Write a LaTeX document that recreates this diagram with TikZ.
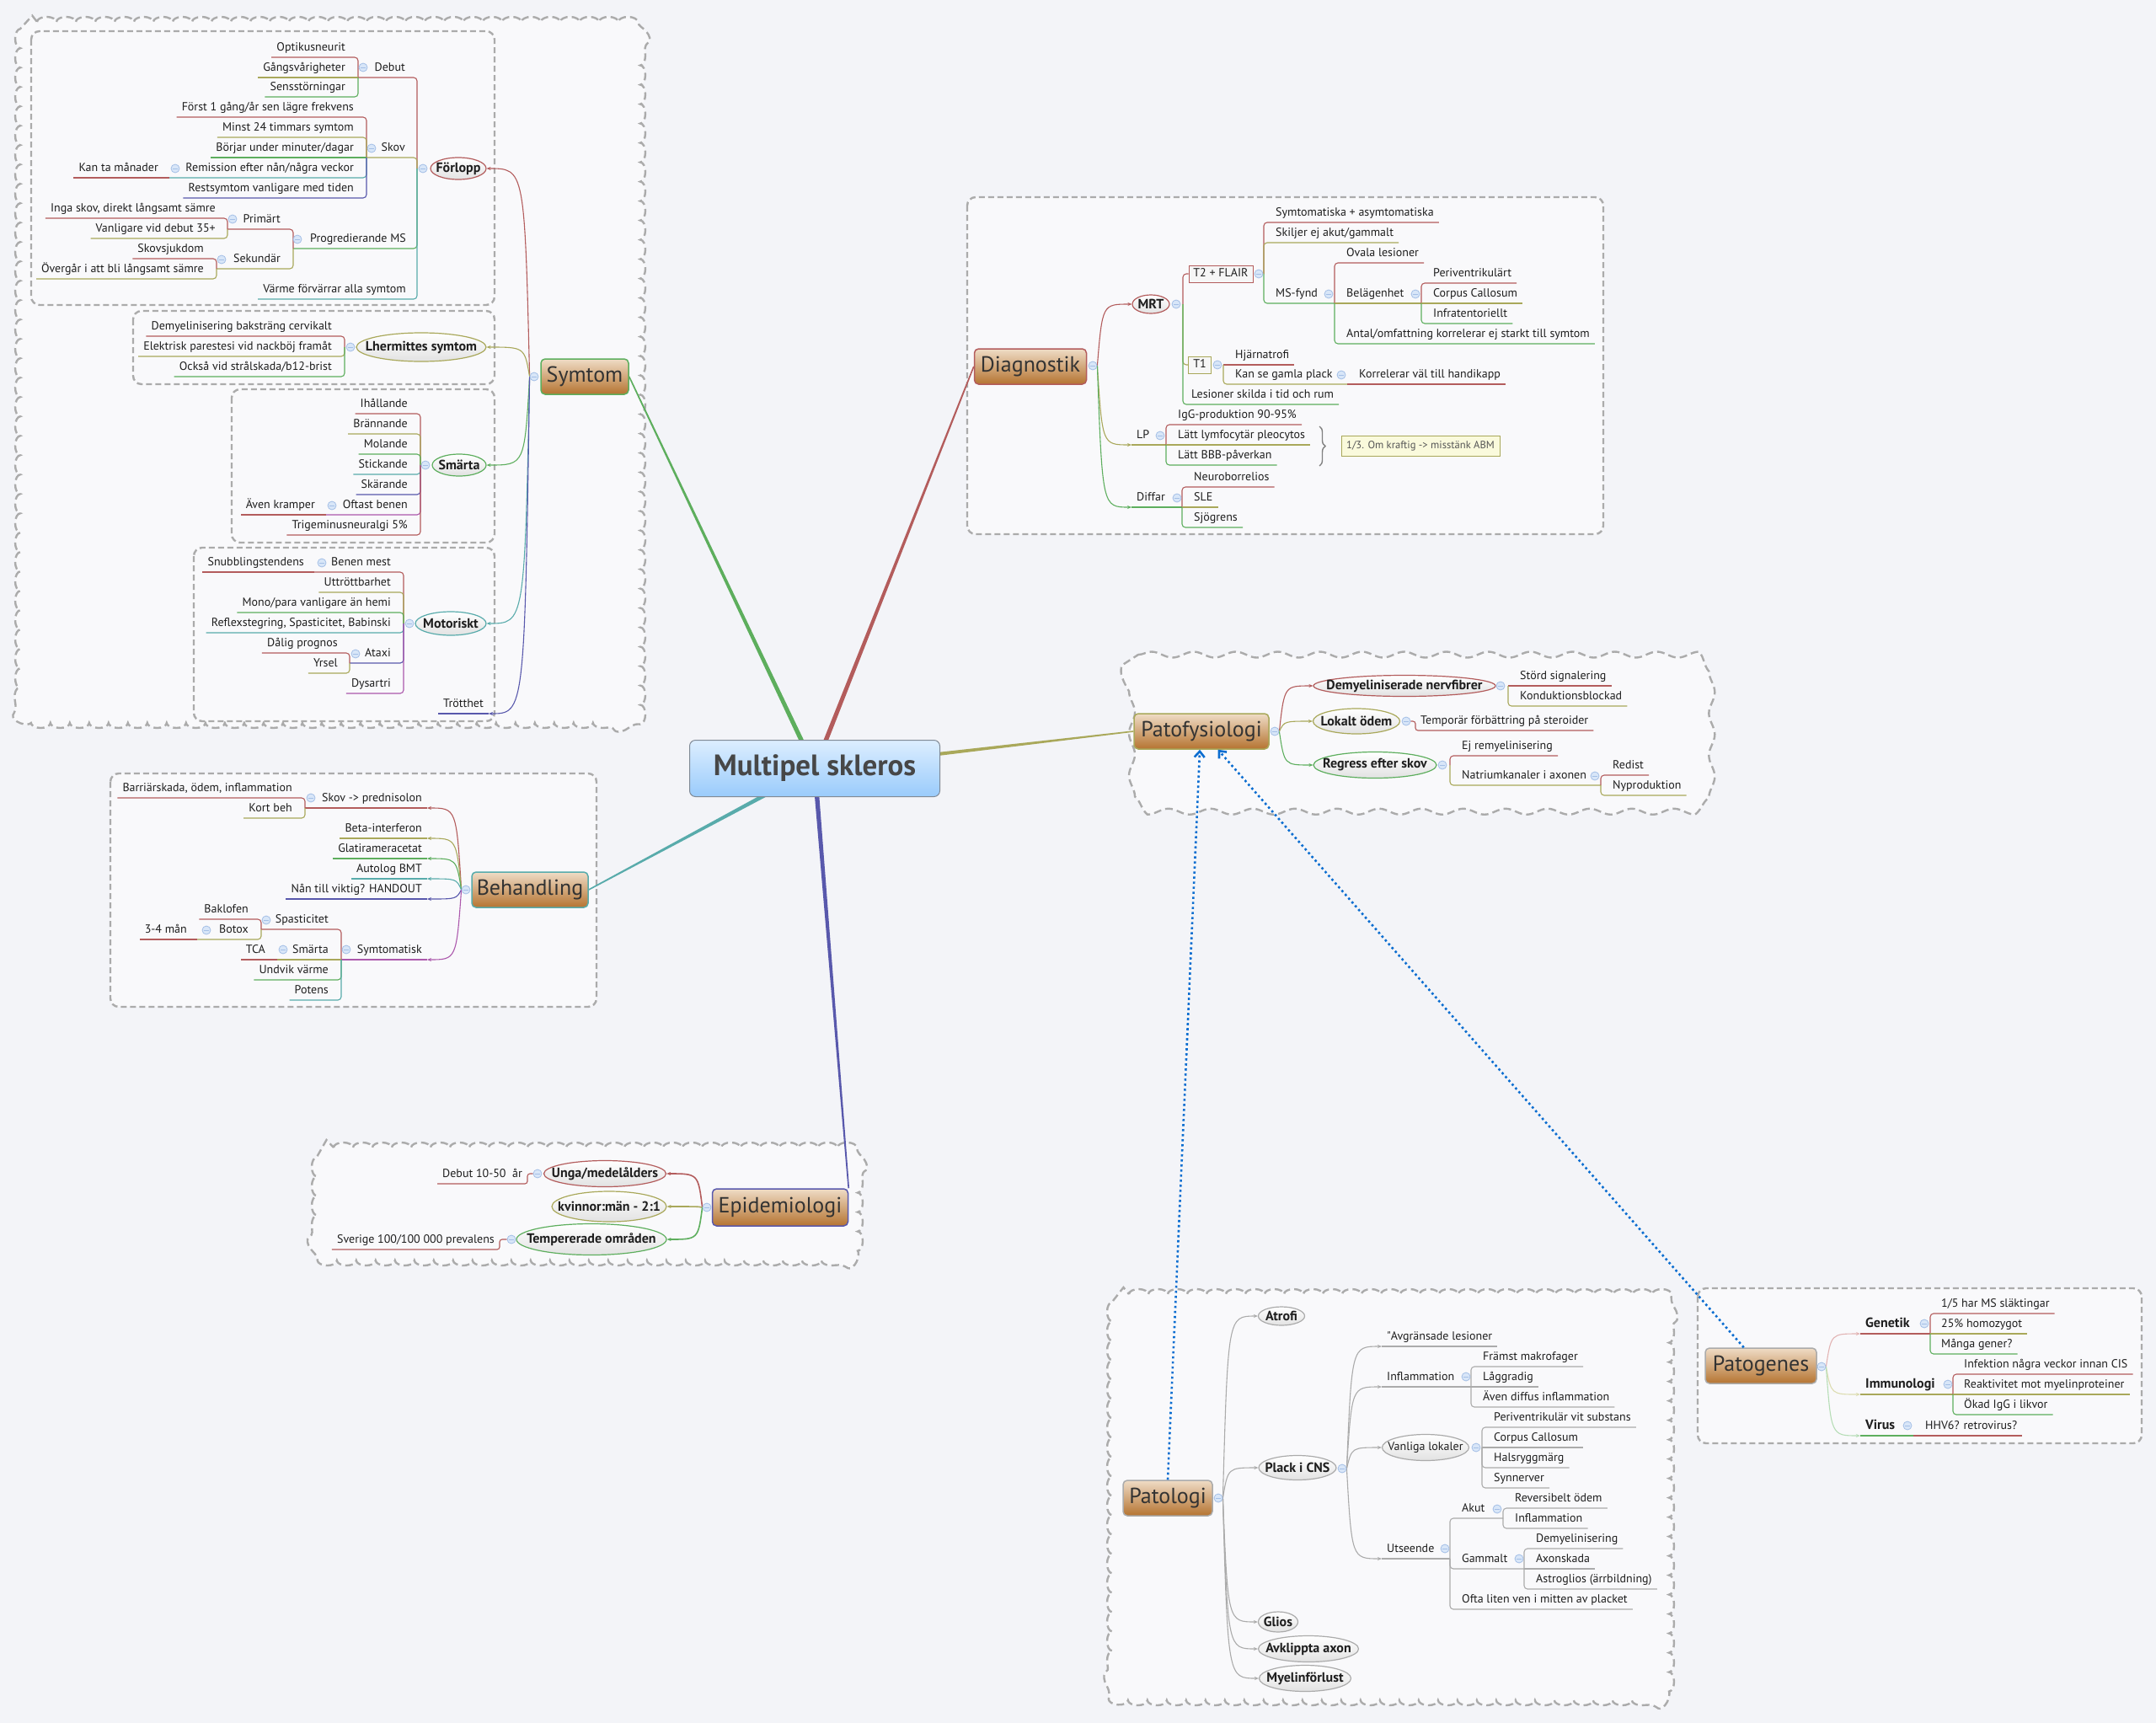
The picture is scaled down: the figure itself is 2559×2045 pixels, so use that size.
\documentclass[tikz,border=0pt]{standalone}
\usepackage{fontspec}
\setmainfont{PT Sans}
\usetikzlibrary{shapes.geometric, arrows.meta, calc, decorations.pathmorphing, decorations.pathreplacing}
\definecolor{bgC}{HTML}{F3F4F8}
\definecolor{bndF}{HTML}{F9F9FB}
\definecolor{bndD}{HTML}{ABABAB}
\definecolor{txt}{HTML}{1E1E1E}
\definecolor{xred}{HTML}{B35C5C}
\definecolor{xolive}{HTML}{A9A85A}
\definecolor{xgreen}{HTML}{5DAE5D}
\definecolor{xteal}{HTML}{58ABAB}
\definecolor{xblue}{HTML}{5858AC}
\definecolor{xpurple}{HTML}{AC58AC}
\definecolor{xgray}{HTML}{ABABAB}
\definecolor{pred}{HTML}{E2B4B4}
\definecolor{polive}{HTML}{DCDCB0}
\definecolor{pgreen}{HTML}{B6DDB6}
\definecolor{togF}{HTML}{D8E6F8}
\definecolor{togD}{HTML}{A4BFE6}
\definecolor{dotC}{HTML}{0B6DD0}
\definecolor{ctrT}{HTML}{DDEEFF}
\definecolor{ctrB}{HTML}{99CBFB}
\definecolor{ctrD}{HTML}{808A96}
\definecolor{ctrX}{HTML}{474747}
\definecolor{topT}{HTML}{EFDCC6}
\definecolor{topB}{HTML}{B57431}
\definecolor{topX}{HTML}{333333}
\definecolor{bubB}{HTML}{E2E2E2}
\definecolor{rboxF}{HTML}{F6F6F6}
\definecolor{sumF}{HTML}{FAFADC}
\definecolor{sumX}{HTML}{555555}
\pgfdeclarelayer{bg}
\pgfdeclarelayer{lines}
\pgfsetlayers{bg,lines,main}
\newcommand\mainbranch[3]{%
  \fill[#1] ($(#2)!2.8pt!90:(#3)$) -- ($(#3)!0.8pt!-90:(#2)$) -- ($(#3)!0.8pt!90:(#2)$) -- ($(#2)!2.8pt!-90:(#3)$) -- cycle;}
% cloud outline: rounded box drawn clockwise, so the decoration bulges outward
\newcommand\cloudbox[5]{%
  \path[#1] ({#2+20},#3) -- ({#4-20},#3) arc[start angle=90, end angle=0, radius=20pt]
    -- (#4,{#5-20}) arc[start angle=0, end angle=-90, radius=20pt]
    -- ({#2+20},#5) arc[start angle=-90, end angle=-180, radius=20pt]
    -- (#2,{#3+20}) arc[start angle=180, end angle=90, radius=20pt] -- cycle;}
\tikzset{
  lf/.style={font=\fontsize{14}{16}\selectfont, text=txt, inner xsep=6pt, inner ysep=4pt, text height=10pt, text depth=3pt},
  lfL/.style={lf, anchor=south east},
  lfR/.style={lf, anchor=south west},
  lfB/.style={lfR, font=\bfseries\fontsize{16}{18}\selectfont},
  bt/.style={font=\bfseries\fontsize{16}{18}\selectfont, text=txt},
  bub/.style={ellipse, line width=1.2pt, top color=white, bottom color=bubB, inner sep=0pt},
  mtop/.style={rectangle, rounded corners=5pt, line width=1.5pt, top color=topT, bottom color=topB, minimum height=42, font=\fontsize{26}{30}\selectfont, text=topX},
  ctr/.style={rectangle, rounded corners=7pt, draw=ctrD, line width=1pt, top color=ctrT, bottom color=ctrB, minimum width=297, minimum height=67, font=\bfseries\fontsize{35}{40}\selectfont, text=ctrX},
  rbox/.style={rectangle, line width=1pt, fill=rboxF, minimum height=20, inner xsep=4pt, inner ysep=0pt, font=\fontsize{14}{16}\selectfont, text=txt, text height=10pt, text depth=3pt},
  sbox/.style={rectangle, draw=xolive, line width=0.8pt, fill=sumF, minimum width=188, minimum height=24, font=\fontsize{12.6}{14}\selectfont, text=sumX},
  tog/.style={circle, draw=togD, fill=togF, line width=0.8pt, minimum size=10pt, inner sep=0pt,
    path picture={\draw[togD, line width=1pt] ([xshift=-2.6pt]path picture bounding box.center) -- ([xshift=2.6pt]path picture bounding box.center);}},
  ln/.style={line width=1.1pt, rounded corners=4pt},
  crv/.style={line width=1.1pt, -{Stealth[length=5pt,width=4pt]},
    to path={.. controls ($(\tikztostart |- \tikztotarget)+(#1,0)$) .. (\tikztotarget)}},
  bnd/.style={draw=bndD, fill=bndF, line width=2.4pt, dash pattern=on 7pt off 4pt, rounded corners=10pt},
  cld/.style={draw=bndD, fill=bndF, line width=2.4pt, dash pattern=on 9pt off 5pt, decorate, decoration={bumps, segment length=46pt, amplitude=6pt}},
  wav/.style={draw=bndD, fill=bndF, line width=2.4pt, dash pattern=on 9pt off 5pt, decorate, decoration={snake, segment length=50pt, amplitude=3.5pt}},
  brc/.style={draw=gray, line width=1.4pt, decorate, decoration={brace, amplitude=7pt}},
  dotA/.style={dotC, line width=2.6pt, dash pattern=on 2.6pt off 3.4pt, -{Straight Barb[length=7pt,width=12pt]}}
}
\begin{document}
\begin{tikzpicture}[x=1pt, y=-1pt]
\useasboundingbox (0,0) rectangle (2559,2045);
\begin{pgfonlayer}{bg}
\fill[bgC] (0,0) rectangle (2559,2045);
% boundaries
\cloudbox{cld}{24}{26}{760}{858}
\path[bnd] (37,37) rectangle (587,362);
\path[bnd] (158,369) rectangle (587,456);
\path[bnd] (275,462) rectangle (587,644);
\path[bnd] (230,650) rectangle (587,856);
\path[bnd] (131,918) rectangle (708,1195);
\cloudbox{cld}{376}{1362}{1018}{1496}
\path[bnd] (1148,234) rectangle (1903,634);
\cloudbox{wav}{1331}{777}{2020}{958}
\cloudbox{cld}{1320}{1536}{1981}{2018}
\path[bnd] (2015,1529) rectangle (2542,1713);
\end{pgfonlayer}

% central and main topics
\node[ctr] (ms) at (967,912) {Multipel skleros};
\node[mtop, draw=xgreen, minimum width=104] (sym) at (694,447) {Symtom};
\node[mtop, draw=xred, minimum width=133] (dia) at (1223,435) {Diagnostik};
\node[mtop, draw=xolive, minimum width=160] (pfy) at (1426,868) {Patofysiologi};
\node[mtop, draw=xteal, minimum width=138] (beh) at (629,1056) {Behandling};
\node[mtop, draw=xblue, minimum width=161, minimum height=44] (epi) at (926,1433) {Epidemiologi};
\node[mtop, draw=xgray, minimum width=106] (plg) at (1386,1778) {Patologi};
\node[mtop, draw=xgray, minimum width=132] (pgn) at (2090,1621) {Patogenes};
\begin{pgfonlayer}{lines}
\mainbranch{xgreen}{ms}{sym.east}
\mainbranch{xred}{ms}{dia.west}
\mainbranch{xolive}{ms}{pfy.west}
\mainbranch{xteal}{ms}{beh.east}
\mainbranch{xblue}{ms}{epi.north east}
\end{pgfonlayer}

% Symtom
\node[tog] (tSym) at (634,447) {};
\node[bub, draw=xred, minimum width=66, minimum height=26, label={[bt]center:Förlopp}] (forl) at (544,200) {};
\node[bub, draw=xolive, minimum width=154, minimum height=34, label={[bt]center:Lhermittes symtom}] (lher) at (500,412) {};
\node[bub, draw=xgreen, minimum width=64, minimum height=26, label={[bt]center:Smärta}] (smar) at (545,552) {};
\node[bub, draw=xteal, minimum width=84, minimum height=28, label={[bt]center:Motoriskt}] (moto) at (535,740) {};
\node[lfL] (trot) at (580,847) {Trötthet};
\node[tog] (tForl) at (502,200) {};
\coordinate (forB) at (495,200);
\node[lfL] (deb) at (487,92) {Debut};
\node[tog] (tDeb) at (431,80) {};
\coordinate (debB) at (425,92);
\node[lfL] (deb1) at (416,68) {Optikusneurit};
\node[lfL] (deb2) at (416,92) {Gångsvårigheter};
\node[lfL] (deb3) at (416,115) {Sensstörningar};
\node[lfL] (skov) at (487,187) {Skov};
\node[tog] (tSkov) at (441,176) {};
\coordinate (skovB) at (435,187);
\node[lfL] (sk1) at (426,139) {Först 1 gång/år sen lägre frekvens};
\node[lfL] (sk2) at (426,163) {Minst 24 timmars symtom};
\node[lfL] (sk3) at (426,187) {Börjar under minuter/dagar};
\node[lfL] (sk4) at (426,211) {Remission efter nån/några veckor};
\node[tog] (tRem) at (208,200) {};
\coordinate (remB) at (201,211);
\node[lfL] (rem1) at (194,211) {Kan ta månader};
\node[lfL] (sk5) at (426,235) {Restsymtom vanligare med tiden};
\node[lfL] (prog) at (488,295) {Progredierande MS};
\node[tog] (tProg) at (353,284) {};
\coordinate (progB) at (348,295);
\node[lfL] (prim) at (339,272) {Primärt};
\node[tog] (tPrim) at (276,260) {};
\coordinate (primB) at (270,272);
\node[lfL] (pr1) at (262,259) {Inga skov, direkt långsamt sämre};
\node[lfL] (pr2) at (262,283) {Vanligare vid debut 35+};
\node[lfL] (sek) at (339,319) {Sekundär};
\node[tog] (tSek) at (263,308) {};
\coordinate (sekB) at (257,319);
\node[lfL] (se1) at (248,307) {Skovsjukdom};
\node[lfL] (se2) at (248,331) {Övergår i att bli långsamt sämre};
\node[lfL] (varm) at (488,355) {Värme förvärrar alla symtom};
\node[tog] (tLher) at (416,412) {};
\coordinate (lherB) at (409,412);
\node[lfL] (lh1) at (400,399) {Demyelinisering baksträng cervikalt};
\node[lfL] (lh2) at (400,423) {Elektrisk parestesi vid nackböj framåt};
\node[lfL] (lh3) at (400,447) {Också vid strålskada/b12-brist};
\node[tog] (tSmar) at (505,552) {};
\coordinate (smarB) at (499,552);
\node[lfL] (sm1) at (490,491) {Ihållande};
\node[lfL] (sm2) at (490,515) {Brännande};
\node[lfL] (sm3) at (490,539) {Molande};
\node[lfL] (sm4) at (490,563) {Stickande};
\node[lfL] (sm5) at (490,587) {Skärande};
\node[lfL] (sm6) at (490,611) {Oftast benen};
\node[tog] (tOft) at (394,600) {};
\coordinate (oftB) at (387,611);
\node[lfL] (of1) at (380,611) {Även kramper};
\node[lfL] (sm7) at (490,635) {Trigeminusneuralgi 5\%};
\node[tog] (tMoto) at (486,740) {};
\coordinate (motoB) at (479,740);
\node[lfL] (mo1) at (470,679) {Benen mest};
\node[tog] (tBen) at (382,668) {};
\coordinate (benB) at (373,679);
\node[lfL] (be1) at (367,679) {Snubblingstendens};
\node[lfL] (mo2) at (470,703) {Uttröttbarhet};
\node[lfL] (mo3) at (470,727) {Mono/para vanligare än hemi};
\node[lfL] (mo4) at (470,751) {Reflexstegring, Spasticitet, Babinski};
\node[lfL] (mo5) at (470,787) {Ataxi};
\node[tog] (tAta) at (422,776) {};
\coordinate (ataB) at (415,787);
\node[lfL] (at1) at (407,775) {Dålig prognos};
\node[lfL] (at2) at (407,799) {Yrsel};
\node[lfL] (mo6) at (470,823) {Dysartri};
\begin{pgfonlayer}{lines}
\draw[xred, crv=-6] (tSym.west) to (forl.east);
\draw[xolive, crv=-6] (tSym.west) to (lher.east);
\draw[xgreen, crv=-6] (tSym.west) to (smar.east);
\draw[xteal, crv=-6] (tSym.west) to (moto.east);
\draw[xblue, crv=-6] (tSym.west) to (trot.south east);
\draw[xblue, ln] (trot.south east) -- (trot.south west);
\draw[xred, ln] (forB) |- (debB);
\draw[xred, ln] (debB) |- (deb1.south west);
\draw[xolive, ln] (debB) -- (deb2.south west);
\draw[xgreen, ln] (debB) |- (deb3.south west);
\draw[xolive, ln] (forB) |- (skovB);
\draw[xred, ln] (skovB) |- (sk1.south west);
\draw[xolive, ln] (skovB) |- (sk2.south west);
\draw[xgreen, ln] (skovB) -- (sk3.south west);
\draw[xteal, ln] (skovB) |- (remB);
\draw[xred, ln] (remB) -- (rem1.south west);
\draw[xblue, ln] (skovB) |- (sk5.south west);
\draw[xgreen, ln] (forB) |- (progB);
\draw[xred, ln] (progB) |- (primB);
\draw[xred, ln] (primB) |- (pr1.south west);
\draw[xolive, ln] (primB) |- (pr2.south west);
\draw[xolive, ln] (progB) |- (sekB);
\draw[xred, ln] (sekB) |- (se1.south west);
\draw[xolive, ln] (sekB) |- (se2.south west);
\draw[xteal, ln] (forB) |- (varm.south west);
\draw[xred, ln] (lherB) |- (lh1.south west);
\draw[xolive, ln] (lherB) |- (lh2.south west);
\draw[xgreen, ln] (lherB) |- (lh3.south west);
\draw[xred, ln] (smarB) |- (sm1.south west);
\draw[xolive, ln] (smarB) |- (sm2.south west);
\draw[xgreen, ln] (smarB) |- (sm3.south west);
\draw[xteal, ln] (smarB) |- (sm4.south west);
\draw[xblue, ln] (smarB) |- (sm5.south west);
\draw[xpurple, ln] (smarB) |- (oftB);
\draw[xred, ln] (oftB) -- (of1.south west);
\draw[xred, ln] (smarB) |- (sm7.south west);
\draw[xred, ln] (motoB) |- (benB);
\draw[xred, ln] (benB) -- (be1.south west);
\draw[xolive, ln] (motoB) |- (mo2.south west);
\draw[xgreen, ln] (motoB) |- (mo3.south west);
\draw[xteal, ln] (motoB) |- (mo4.south west);
\draw[xblue, ln] (motoB) |- (ataB);
\draw[xred, ln] (ataB) |- (at1.south west);
\draw[xolive, ln] (ataB) |- (at2.south west);
\draw[xpurple, ln] (motoB) |- (mo6.south west);
\end{pgfonlayer}

% Behandling
\node[tog] (tBeh) at (553,1056) {};
\node[lfL] (skp) at (507,959) {Skov -> prednisolon};
\node[tog] (tSkp) at (369,947) {};
\coordinate (skpB) at (362,959);
\node[lfL] (sp1) at (353,947) {Barriärskada, ödem, inflammation};
\node[lfL] (sp2) at (353,971) {Kort beh};
\node[lfL] (bh2) at (507,995) {Beta-interferon};
\node[lfL] (bh3) at (507,1019) {Glatirameracetat};
\node[lfL] (bh4) at (507,1043) {Autolog BMT};
\node[lfL] (bh5) at (507,1067) {Nån till viktig? HANDOUT};
\node[lfL] (stk) at (507,1139) {Symtomatisk};
\node[tog] (tStk) at (411,1127) {};
\coordinate (stkB) at (405,1139);
\node[lfL] (spa) at (396,1103) {Spasticitet};
\node[tog] (tSpa) at (316,1092) {};
\coordinate (spaB) at (310,1103);
\node[lfL] (pa1) at (301,1091) {Baklofen};
\node[lfL] (bot) at (301,1115) {Botox};
\node[tog] (tBot) at (245,1104) {};
\coordinate (botB) at (234,1115);
\node[lfL] (bo1) at (228,1115) {3-4 mån};
\node[lfL] (smb) at (396,1139) {Smärta};
\node[tog] (tSmb) at (336,1127) {};
\coordinate (smbB) at (329,1139);
\node[lfL] (sb1) at (321,1139) {TCA};
\node[lfL] (st3) at (396,1163) {Undvik värme};
\node[lfL] (st4) at (396,1187) {Potens};
\begin{pgfonlayer}{lines}
\draw[xred, crv=-6] (tBeh.west) to (skp.south east);
\draw[xred, ln] (skp.south east) -- (skpB);
\draw[xred, ln] (skpB) |- (sp1.south west);
\draw[xolive, ln] (skpB) |- (sp2.south west);
\draw[xolive, crv=-6] (tBeh.west) to (bh2.south east);
\draw[xolive, ln] (bh2.south east) -- (bh2.south west);
\draw[xgreen, crv=-6] (tBeh.west) to (bh3.south east);
\draw[xgreen, ln] (bh3.south east) -- (bh3.south west);
\draw[xteal, crv=-6] (tBeh.west) to (bh4.south east);
\draw[xteal, ln] (bh4.south east) -- (bh4.south west);
\draw[xblue, crv=-6] (tBeh.west) to (bh5.south east);
\draw[xblue, ln] (bh5.south east) -- (bh5.south west);
\draw[xpurple, crv=-6] (tBeh.west) to (stk.south east);
\draw[xpurple, ln] (stk.south east) -- (stkB);
\draw[xred, ln] (stkB) |- (spaB);
\draw[xred, ln] (spaB) |- (pa1.south west);
\draw[xolive, ln] (spaB) |- (botB);
\draw[xred, ln] (botB) -- (bo1.south west);
\draw[xolive, ln] (stkB) -- (smbB);
\draw[xred, ln] (smbB) -- (sb1.south west);
\draw[xgreen, ln] (stkB) |- (st3.south west);
\draw[xteal, ln] (stkB) |- (st4.south west);
\end{pgfonlayer}

% Epidemiologi
\node[tog] (tEpi) at (839,1433) {};
\node[bub, draw=xred, minimum width=145, minimum height=31, label={[bt]center:Unga/medelålders}] (unga) at (718,1393) {};
\node[tog] (tUnga) at (638,1393) {};
\node[lfL] (un1) at (626,1405) {Debut 10-50~ år};
\node[bub, draw=xolive, minimum width=136, minimum height=36, label={[bt]center:{kvinnor:män - 2:1}}] (kvin) at (723,1432) {};
\node[bub, draw=xgreen, minimum width=178, minimum height=37, label={[bt]center:Tempererade områden}] (temp) at (702,1471) {};
\node[tog] (tTemp) at (607,1471) {};
\node[lfL] (te1) at (593,1483) {Sverige 100/100 000 prevalens};
\begin{pgfonlayer}{lines}
\draw[xred, crv=-5, line width=1.6pt] (tEpi.west) to (unga.east);
\draw[xolive, crv=-5, line width=1.6pt] (tEpi.west) to (kvin.east);
\draw[xgreen, crv=-5, line width=1.6pt] (tEpi.west) to (temp.east);
\draw[xred, ln, rounded corners=3pt] (tUnga.west) -| (un1.south east) -- (un1.south west);
\draw[xred, ln, rounded corners=3pt] (tTemp.west) -| (te1.south east) -- (te1.south west);
\end{pgfonlayer}

% Diagnostik
\node[tog] (tDia) at (1297,434) {};
\node[bub, draw=xred, minimum width=44, minimum height=22, label={[bt]center:MRT}] (mrt) at (1366,361) {};
\node[tog] (tMrt) at (1396,361) {};
\coordinate (mrtB) at (1404,361);
\node[rbox, draw=xred, minimum width=76] (t2) at (1449,325) {T2 + FLAIR};
\node[tog] (tT2) at (1494,325) {};
\coordinate (t2B) at (1500,325);
\node[lfR] (f1) at (1508,264) {Symtomatiska + asymtomatiska};
\node[lfR] (f2) at (1508,288) {Skiljer ej akut/gammalt};
\node[lfR] (msf) at (1508,360) {MS-fynd};
\node[tog] (tMsf) at (1577,349) {};
\coordinate (msfB) at (1584,360);
\node[lfR] (m1) at (1592,312) {Ovala lesioner};
\node[lfR] (bel) at (1592,360) {Belägenhet};
\node[tog] (tBel) at (1680,349) {};
\coordinate (belB) at (1687,360);
\node[lfR] (b1) at (1695,336) {Periventrikulärt};
\node[lfR] (b2) at (1695,360) {Corpus Callosum};
\node[lfR] (b3) at (1695,384) {Infratentoriellt};
\node[lfR] (m3) at (1592,408) {Antal/omfattning korrelerar ej starkt till symtom};
\node[rbox, draw=xolive, minimum width=27] (t1) at (1424,433) {T1};
\node[tog] (tT1) at (1445,433) {};
\coordinate (t1B) at (1452,433);
\node[lfR] (h1) at (1460,433) {Hjärnatrofi};
\node[lfR] (ksp) at (1460,456) {Kan se gamla plack};
\node[tog] (tKsp) at (1592,445) {};
\coordinate (kspB) at (1599,456);
\node[lfR] (k1) at (1607,456) {Korrelerar väl till handikapp};
\node[lfR] (mr3) at (1408,480) {Lesioner skilda i tid och rum};
\node[lfR] (lp) at (1343,528) {LP};
\node[tog] (tLp) at (1377,517) {};
\coordinate (lpB) at (1384,528);
\node[lfR] (l1) at (1392,504) {IgG-produktion 90-95\%};
\node[lfR] (l2) at (1392,528) {Lätt lymfocytär pleocytos};
\node[lfR] (l3) at (1392,552) {Lätt BBB-påverkan};
\node[sbox] (abm) at (1686,529) {1/3. Om kraftig -> misstänk ABM};
\node[lfR] (dif) at (1343,602) {Diffar};
\node[tog] (tDif) at (1397,591) {};
\coordinate (difB) at (1403,602);
\node[lfR] (d1) at (1411,578) {Neuroborrelios};
\node[lfR] (d2) at (1411,602) {SLE};
\node[lfR] (d3) at (1411,626) {Sjögrens};
\begin{pgfonlayer}{lines}
\draw[xred, crv=6] (tDia.east) to (mrt.west);
\draw[xolive, crv=6] (tDia.east) to (lp.south west);
\draw[xgreen, crv=6] (tDia.east) to (dif.south west);
\draw[xolive, ln] (lp.south west) -- (lpB);
\draw[xgreen, ln] (dif.south west) -- (difB);
\draw[xred, ln] (mrtB) |- (t2.west);
\draw[xolive, ln] (mrtB) |- (t1.west);
\draw[xgreen, ln] (mrtB) |- (mr3.south east);
\draw[xred, ln] (t2B) |- (f1.south east);
\draw[xolive, ln] (t2B) |- (f2.south east);
\draw[xgreen, ln] (t2B) |- (msfB);
\draw[xred, ln] (msfB) |- (m1.south east);
\draw[xolive, ln] (msfB) -- (belB);
\draw[xred, ln] (belB) |- (b1.south east);
\draw[xolive, ln] (belB) -- (b2.south east);
\draw[xgreen, ln] (belB) |- (b3.south east);
\draw[xgreen, ln] (msfB) |- (m3.south east);
\draw[xred, ln] (t1B) -- (h1.south east);
\draw[xolive, ln] (t1B) |- (kspB);
\draw[xred, ln] (kspB) -- (k1.south east);
\draw[xred, ln] (lpB) |- (l1.south east);
\draw[xolive, ln] (lpB) -- (l2.south east);
\draw[xgreen, ln] (lpB) |- (l3.south east);
\draw[xred, ln] (difB) |- (d1.south east);
\draw[xolive, ln] (difB) -- (d2.south east);
\draw[xgreen, ln] (difB) |- (d3.south east);
\draw[brc] (1566,506) -- (1566,553);
\end{pgfonlayer}

% Patofysiologi
\node[tog] (tPfy) at (1513,868) {};
\node[bub, draw=xred, minimum width=216, minimum height=25, label={[bt]center:Demyeliniserade nervfibrer}] (demy) at (1667,814) {};
\node[tog] (tDemy) at (1781,814) {};
\coordinate (demyB) at (1790,814);
\node[lfR] (dm1) at (1798,814) {Störd signalering};
\node[lfR] (dm2) at (1798,838) {Konduktionsblockad};
\node[bub, draw=xolive, minimum width=103, minimum height=30, label={[bt]center:Lokalt ödem}] (loka) at (1610,856) {};
\node[tog] (tLoka) at (1669,856) {};
\node[lfR] (lo1) at (1680,867) {Temporär förbättring på steroider};
\node[bub, draw=xgreen, minimum width=146, minimum height=31, label={[bt]center:Regress efter skov}] (regr) at (1632,908) {};
\node[tog] (tRegr) at (1712,908) {};
\coordinate (regrB) at (1721,908);
\node[lfR] (rg1) at (1729,897) {Ej remyelinisering};
\node[lfR] (nat) at (1729,932) {Natriumkanaler i axonen};
\node[tog] (tNat) at (1893,921) {};
\coordinate (natB) at (1900,932);
\node[lfR] (n1) at (1908,920) {Redist};
\node[lfR] (n2) at (1908,944) {Nyproduktion};
\begin{pgfonlayer}{lines}
\draw[xred, crv=6] (tPfy.east) to (demy.west);
\draw[xolive, crv=6] (tPfy.east) to (loka.west);
\draw[xgreen, crv=6] (tPfy.east) to (regr.west);
\draw[xred, ln] (demyB) -- (dm1.south east);
\draw[xolive, ln] (demyB) |- (dm2.south east);
\draw[xred, ln, rounded corners=3pt] (tLoka.east) -| (lo1.south west) -- (lo1.south east);
\draw[xred, ln] (regrB) |- (rg1.south east);
\draw[xolive, ln] (regrB) |- (natB);
\draw[xred, ln] (natB) |- (n1.south east);
\draw[xolive, ln] (natB) |- (n2.south east);
\end{pgfonlayer}

% Patologi
\node[tog] (tPlg) at (1446,1778) {};
\node[bub, draw=xgray, minimum width=55, minimum height=22, label={[bt]center:Atrofi}] (atro) at (1521,1562) {};
\node[bub, draw=xgray, minimum width=92, minimum height=29, label={[bt]center:Plack i CNS}] (plac) at (1540,1742) {};
\node[tog] (tPlac) at (1593,1743) {};
\node[lfR] (avg) at (1640,1598) {\textquotedbl Avgränsade lesioner};
\node[lfR] (infl) at (1640,1646) {Inflammation};
\node[tog] (tInfl) at (1740,1634) {};
\coordinate (inflB) at (1746,1646);
\node[lfR] (if1) at (1754,1622) {Främst makrofager};
\node[lfR] (if2) at (1754,1646) {Låggradig};
\node[lfR] (if3) at (1754,1670) {Även diffus inflammation};
\node[bub, draw=xgray, minimum width=103, minimum height=31, label={[lf]center:Vanliga lokaler}] (vanl) at (1692,1718) {};
\node[tog] (tVanl) at (1752,1718) {};
\coordinate (vanlB) at (1759,1718);
\node[lfR] (vl1) at (1767,1694) {Periventrikulär vit substans};
\node[lfR] (vl2) at (1767,1718) {Corpus Callosum};
\node[lfR] (vl3) at (1767,1742) {Halsryggmärg};
\node[lfR] (vl4) at (1767,1766) {Synnerver};
\node[lfR] (utse) at (1640,1850) {Utseende};
\node[tog] (tUtse) at (1715,1838) {};
\coordinate (utseB) at (1721,1850);
\node[lfR] (akut) at (1729,1802) {Akut};
\node[tog] (tAkut) at (1777,1791) {};
\coordinate (akutB) at (1784,1802);
\node[lfR] (ak1) at (1792,1790) {Reversibelt ödem};
\node[lfR] (ak2) at (1792,1814) {Inflammation};
\node[lfR] (gaml) at (1729,1862) {Gammalt};
\node[tog] (tGaml) at (1803,1850) {};
\coordinate (gamlB) at (1809,1862);
\node[lfR] (ga1) at (1817,1838) {Demyelinisering};
\node[lfR] (ga2) at (1817,1862) {Axonskada};
\node[lfR] (ga3) at (1817,1886) {Astroglios (ärrbildning)};
\node[lfR] (ut3) at (1729,1910) {Ofta liten ven i mitten av placket};
\node[bub, draw=xgray, minimum width=47, minimum height=24, label={[bt]center:Glios}] (glio) at (1517,1925) {};
\node[bub, draw=xgray, minimum width=119, minimum height=31, label={[bt]center:Avklippta axon}] (avkl) at (1553,1957) {};
\node[bub, draw=xgray, minimum width=109, minimum height=31, label={[bt]center:Myelinförlust}] (myel) at (1549,1992) {};
\begin{pgfonlayer}{lines}
\draw[xgray, crv=6] (tPlg.east) to (atro.west);
\draw[xgray, crv=6] (tPlg.east) to (plac.west);
\draw[xgray, crv=6] (tPlg.east) to (glio.west);
\draw[xgray, crv=6] (tPlg.east) to (avkl.west);
\draw[xgray, crv=6] (tPlg.east) to (myel.west);
\draw[xgray, crv=6] (tPlac.east) to (avg.south west);
\draw[xgray, ln] (avg.south west) -- (avg.south east);
\draw[xgray, crv=6] (tPlac.east) to (infl.south west);
\draw[xgray, ln] (infl.south west) -- (inflB);
\draw[xgray, ln] (inflB) |- (if1.south east);
\draw[xgray, ln] (inflB) -- (if2.south east);
\draw[xgray, ln] (inflB) |- (if3.south east);
\draw[xgray, crv=6] (tPlac.east) to (vanl.west);
\draw[xgray, ln] (vanlB) |- (vl1.south east);
\draw[xgray, ln] (vanlB) -- (vl2.south east);
\draw[xgray, ln] (vanlB) |- (vl3.south east);
\draw[xgray, ln] (vanlB) |- (vl4.south east);
\draw[xgray, crv=6] (tPlac.east) to (utse.south west);
\draw[xgray, ln] (utse.south west) -- (utseB);
\draw[xgray, ln] (utseB) |- (akutB);
\draw[xgray, ln] (akutB) |- (ak1.south east);
\draw[xgray, ln] (akutB) |- (ak2.south east);
\draw[xgray, ln] (utseB) |- (gamlB);
\draw[xgray, ln] (gamlB) |- (ga1.south east);
\draw[xgray, ln] (gamlB) -- (ga2.south east);
\draw[xgray, ln] (gamlB) |- (ga3.south east);
\draw[xgray, ln] (utseB) |- (ut3.south east);
\end{pgfonlayer}

% Patogenes
\node[tog] (tPgn) at (2162,1622) {};
\node[lfB] (gene) at (2208,1583) {Genetik};
\node[tog] (tGene) at (2284,1571) {};
\coordinate (geneB) at (2291,1583);
\node[lfR] (ge1) at (2298,1559) {1/5 har MS släktingar};
\node[lfR] (ge2) at (2298,1583) {25\% homozygot};
\node[lfR] (ge3) at (2298,1607) {Många gener?};
\node[lfB] (immu) at (2208,1655) {Immunologi};
\node[tog] (tImmu) at (2312,1643) {};
\coordinate (immuB) at (2318,1655);
\node[lfR] (im1) at (2325,1631) {Infektion några veckor innan CIS};
\node[lfR] (im2) at (2325,1655) {Reaktivitet mot myelinproteiner};
\node[lfR] (im3) at (2325,1679) {Ökad IgG i likvor};
\node[lfB] (viru) at (2208,1704) {Virus};
\node[tog] (tViru) at (2264,1692) {};
\coordinate (viruB) at (2271,1704);
\node[lfR] (vi1) at (2279,1704) {HHV6? retrovirus?};
\begin{pgfonlayer}{lines}
\draw[pred, crv=6] (tPgn.east) to (gene.south west);
\draw[polive, crv=6] (tPgn.east) to (immu.south west);
\draw[pgreen, crv=6] (tPgn.east) to (viru.south west);
\draw[xred, ln] (gene.south west) -- (geneB);
\draw[xolive, ln] (immu.south west) -- (immuB);
\draw[xgreen, ln] (viru.south west) -- (viruB);
\draw[xred, ln] (geneB) |- (ge1.south east);
\draw[xolive, ln] (geneB) -- (ge2.south east);
\draw[xgreen, ln] (geneB) |- (ge3.south east);
\draw[xred, ln] (immuB) |- (im1.south east);
\draw[xolive, ln] (immuB) -- (im2.south east);
\draw[xgreen, ln] (immuB) |- (im3.south east);
\draw[xred, ln] (viruB) -- (vi1.south east);
\end{pgfonlayer}

% relations
\draw[dotA] (plg.north) -- (pfy.-95);
\draw[dotA] (pgn.133) -- (pfy.-48);
\end{tikzpicture}
\end{document}
